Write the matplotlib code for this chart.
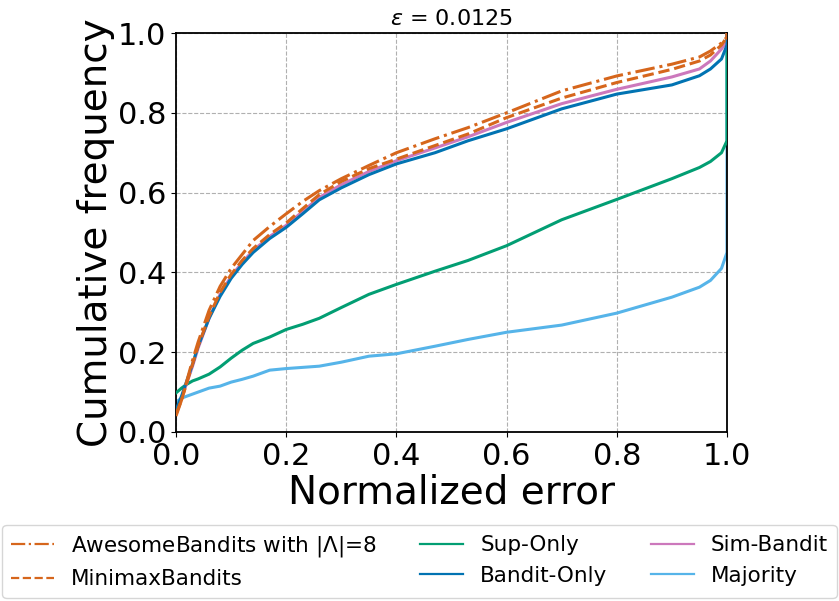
import matplotlib.pyplot as plt

# normalized error grid (last point repeated for the jump at 1.0)
err = [0, 0.01, 0.02, 0.03, 0.04, 0.06, 0.08, 0.10, 0.12, 0.14, 0.17, 0.20,
       0.23, 0.26, 0.30, 0.35, 0.40, 0.47, 0.53, 0.60, 0.70, 0.80, 0.90,
       0.95, 0.97, 0.99, 1.0, 1.0]

awesome = [0.04, 0.08, 0.13, 0.18, 0.225, 0.305, 0.365, 0.41, 0.445, 0.48,
           0.515, 0.547, 0.578, 0.605, 0.635, 0.668, 0.70, 0.735, 0.763,
           0.80, 0.855, 0.8925, 0.922, 0.94, 0.955, 0.975, 0.99, 1.0]
minimax = [0.045, 0.08, 0.125, 0.17, 0.215, 0.29, 0.35, 0.395, 0.43, 0.46,
           0.495, 0.524, 0.56, 0.595, 0.628, 0.66, 0.684, 0.718, 0.747,
           0.788, 0.837, 0.876, 0.909, 0.93, 0.945, 0.97, 0.99, 1.0]
sup_only = [0.098, 0.11, 0.12, 0.128, 0.133, 0.145, 0.163, 0.185, 0.205,
            0.222, 0.238, 0.257, 0.27, 0.285, 0.312, 0.345, 0.37, 0.403,
            0.43, 0.467, 0.532, 0.583, 0.635, 0.663, 0.678, 0.70, 0.73, 1.0]
bandit_only = [0.055, 0.09, 0.13, 0.17, 0.215, 0.285, 0.34, 0.385, 0.42,
               0.45, 0.485, 0.513, 0.547, 0.582, 0.612, 0.645, 0.672, 0.70,
               0.73, 0.76, 0.81, 0.847, 0.870, 0.893, 0.91, 0.935, 0.97, 1.0]
sim_bandit = [0.05, 0.085, 0.125, 0.165, 0.21, 0.285, 0.345, 0.39, 0.425,
              0.455, 0.49, 0.518, 0.553, 0.588, 0.62, 0.653, 0.68, 0.712,
              0.74, 0.776, 0.823, 0.859, 0.89, 0.91, 0.93, 0.96, 0.98, 1.0]
majority = [0.075, 0.085, 0.09, 0.095, 0.10, 0.11, 0.115, 0.125, 0.132, 0.14,
            0.155, 0.159, 0.162, 0.165, 0.175, 0.19, 0.196, 0.215, 0.232,
            0.25, 0.268, 0.298, 0.338, 0.363, 0.38, 0.41, 0.45, 1.0]

fig = plt.figure(figsize=(8.39, 6.01), dpi=100)
ax = fig.add_axes([0.2098, 0.2812, 0.6567, 0.6638])

lw = 2.2
orange = '#d6661c'
ax.plot(err, awesome, color=orange, ls='-.', lw=lw, zorder=6,
        label=r'AwesomeBandits with $|\Lambda|$=8')
ax.plot(err, minimax, color=orange, ls='--', lw=lw, zorder=5,
        label='MinimaxBandits')
ax.plot(err, sup_only, color='#029e73', lw=lw, zorder=3, label='Sup-Only')
ax.plot(err, bandit_only, color='#0173b2', lw=lw, zorder=4, label='Bandit-Only')
ax.plot(err, sim_bandit, color='#cc78bc', lw=lw, zorder=3, label='Sim-Bandit')
ax.plot(err, majority, color='#56b4e9', lw=lw, zorder=2, label='Majority')

ax.set_xlim(0, 1)
ax.set_ylim(0, 1)
ax.set_xticks([0, 0.2, 0.4, 0.6, 0.8, 1.0])
ax.set_yticks([0, 0.2, 0.4, 0.6, 0.8, 1.0])
ax.tick_params(labelsize=22)
ax.grid(ls='--', color='#b0b0b0', lw=0.8)
for s in ax.spines.values():
    s.set_linewidth(1.3)

ax.set_xlabel('Normalized error', fontsize=28, labelpad=2)
ax.set_ylabel('Cumulative frequency', fontsize=28, labelpad=2)
ax.set_title(r'$\varepsilon$ = 0.0125', fontsize=16)

leg = fig.legend(loc='lower center', bbox_to_anchor=(0.5, -0.013), ncol=3,
                 fontsize=15.5)
for h in leg.get_lines():
    h.set_linewidth(1.6)

fig.savefig('out.png', dpi=100)
